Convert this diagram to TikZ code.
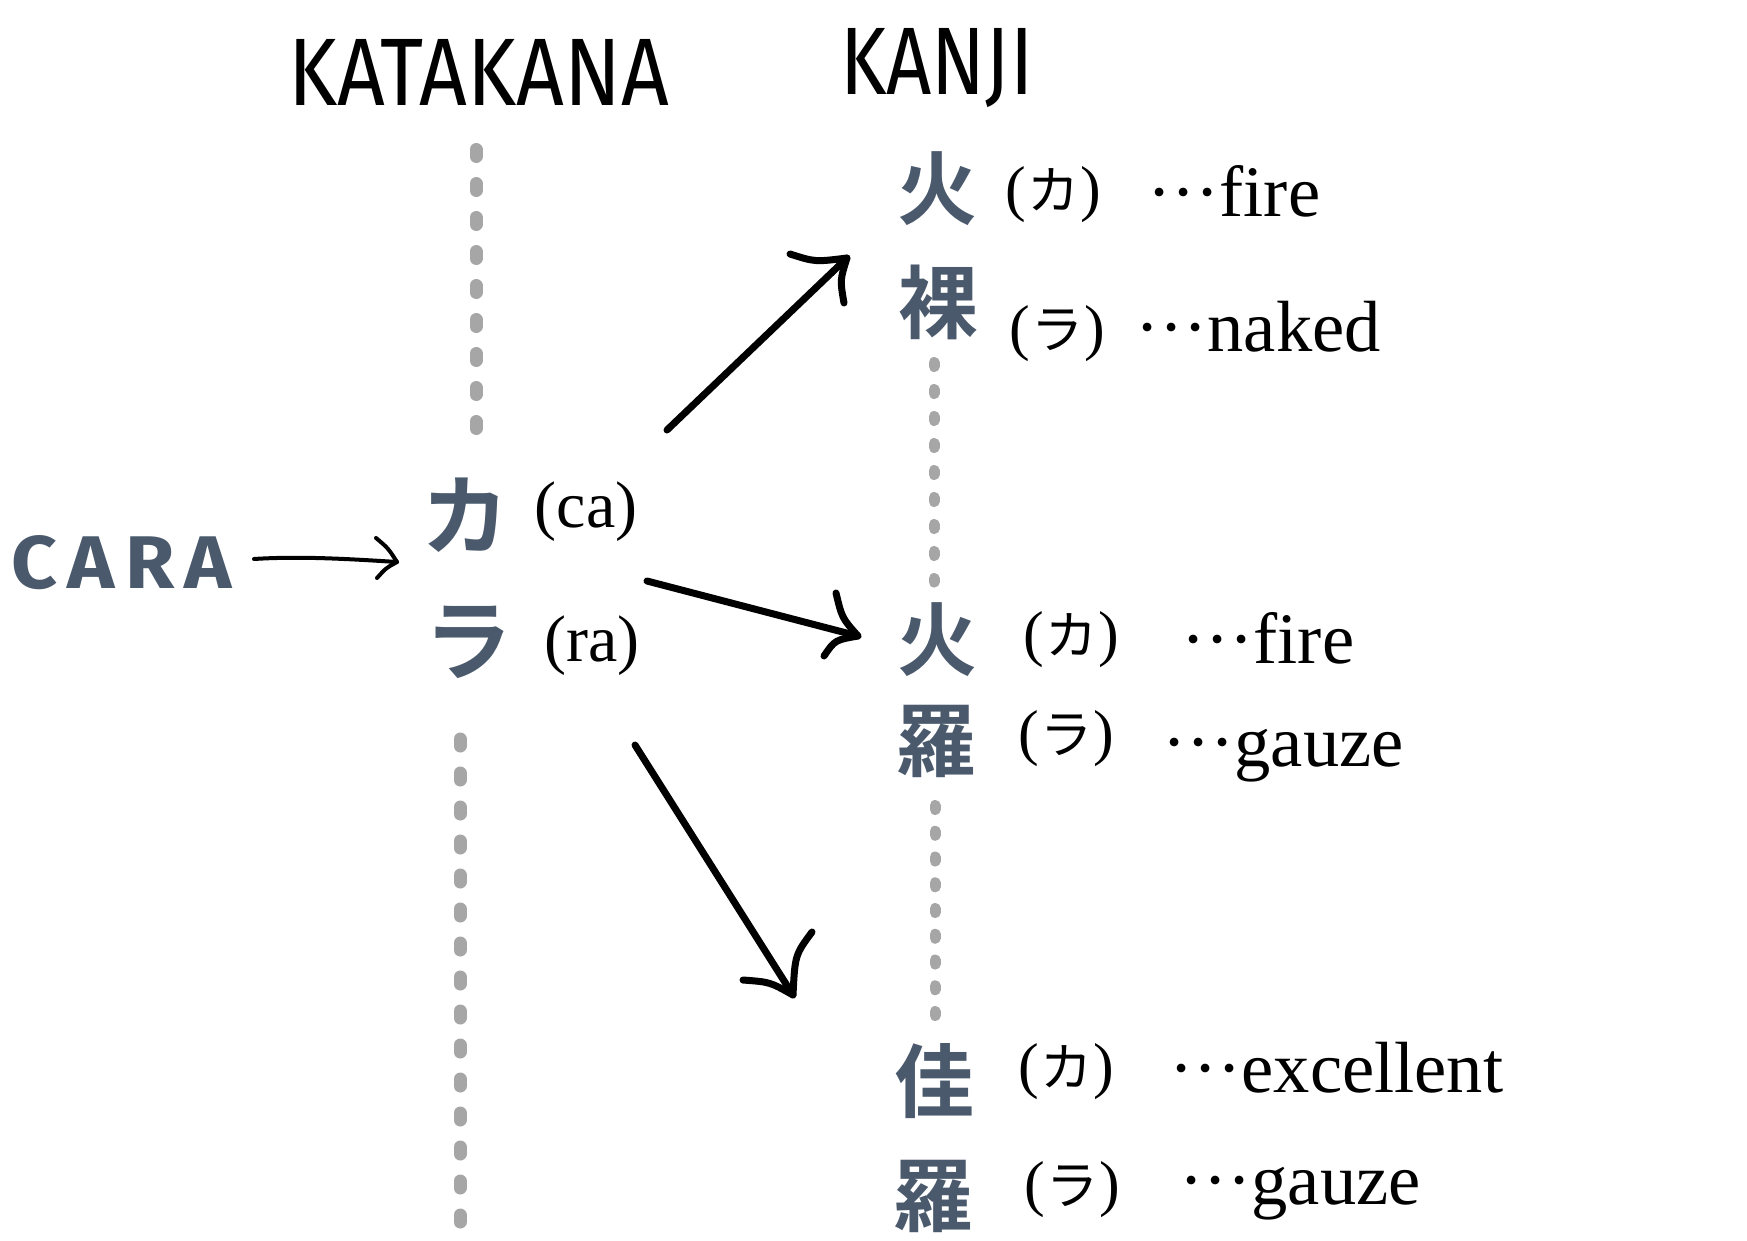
\documentclass[tikz,border=0pt]{standalone}
\usepackage{fontspec}
\setmainfont{Liberation Serif}
\newfontfamily\cjk{Noto Sans CJK JP}[BoldFont=* Bold]
\newfontfamily\titlefont{Fira Sans}
\definecolor{slate}{HTML}{4A596C}
\definecolor{dotgray}{HTML}{A6A6A6}
\newcommand\pk[1]{(\kern1pt{\cjk\fontsize{52}{52}\selectfont #1}\kern1pt)}
\tikzset{
  kanji/.style={inner sep=0pt, text=slate, font=\cjk\bfseries\fontsize{80}{80}\selectfont},
  kana/.style={inner sep=0pt, text=slate, font=\cjk\bfseries\fontsize{88}{88}\selectfont},
  reading/.style={inner sep=0pt, font=\fontsize{66}{66}\selectfont},
  kreading/.style={inner sep=0pt, font=\fontsize{62}{62}\selectfont},
  meaning/.style={inner sep=0pt, anchor=base west, font=\fontsize{72.5}{72.5}\selectfont},
  kdots/.style={dotgray, line width=13pt, line cap=round, dash pattern=on 7pt off 27pt},
  jdots/.style={dotgray, line width=11pt, line cap=round, dash pattern=on 4pt off 23pt},
  jdotsb/.style={dotgray, line width=11pt, line cap=round, dash pattern=on 4pt off 21.75pt},
  brush/.style={line width=7pt, line cap=round, line join=round},
  thinbrush/.style={line width=4pt, line cap=round, line join=round},
  title/.style={inner sep=0pt, anchor=north west, font=\titlefont},
}
\begin{document}
\begin{tikzpicture}[x=1pt,y=-1pt]
\useasboundingbox[fill=white] (0,0) rectangle (1747,1240);

% titles
\node[title] (tkata) at (288,39) {\resizebox{381pt}{66pt}{KATAKANA}};
\node[title] (tkanji) at (840,28) {\resizebox{193pt}{66pt}{KANJI}};

% CARA
\node[inner sep=0pt, anchor=north west, text=slate, font=\titlefont\bfseries] (cara) at (11,535)
  {\resizebox{221pt}{53pt}{\fontsize{77}{77}\selectfont C\kern10pt A\kern10pt R\kern10pt A}};

% katakana
\node[kana] (ka) at (465,515) {カ};
\node[kana] (ra) at (468,642) {ラ};
\node[reading] (rca) at (586,512) {(ca)};
\node[reading] (rra) at (592,646) {(ra)};

% kanji column
\node[kanji] (k1) at (937,189) {火};
\node[kanji] (k2) at (938,302) {裸};
\node[kanji] (k3) at (937,640) {火};
\node[kanji] (k4) at (936,741) {羅};
\node[kanji] (k5) at (934,1081) {佳};
\node[kanji] (k6) at (933,1196) {羅};

\node[kreading] (p1) at (1053,195) {\pk{カ}};
\node[kreading] (p2) at (1057,334) {\pk{ラ}};
\node[kreading] (p3) at (1071,640) {\pk{カ}};
\node[kreading] (p4) at (1066,739) {\pk{ラ}};
\node[kreading] (p5) at (1066,1072) {\pk{カ}};
\node[kreading] (p6) at (1072,1190) {\pk{ラ}};

\node[meaning] (m1) at (1147,216) {···fire};
\node[meaning] (m2) at (1135,351) {···naked};
\node[meaning] (m3) at (1181,663) {···fire};
\node[meaning] (m4) at (1162,766) {···gauze};
\node[meaning] (m5) at (1169,1092) {···excellent};
\node[meaning] (m6) at (1179,1204) {···gauze};

% dotted guide lines
\coordinate (d1a) at (476,149.5); \coordinate (d1b) at (476,430);
\coordinate (d2a) at (460,739);   \coordinate (d2b) at (460,1240);
\coordinate (d3a) at (934,362.5); \coordinate (d3b) at (934,582);
\coordinate (d4a) at (935,805.5); \coordinate (d4b) at (935,1017);
\draw[kdots] (d1a) -- (d1b);
\draw[kdots] (d2a) -- (d2b);
\draw[jdots] (d3a) -- (d3b);
\draw[jdotsb] (d4a) -- (d4b);

% arrows
\coordinate (a0s) at (254,559); \coordinate (a0t) at (397,562);
\coordinate (a0b1) at (376,538); \coordinate (a0b2) at (377,578);
\draw[thinbrush] (a0s) .. controls (300,556) and (350,559) .. (a0t);
\draw[thinbrush] (a0b1) .. controls (388,548) .. (a0t) .. controls (386,568) .. (a0b2);

\coordinate (a1s) at (667,430); \coordinate (a1t) at (847,258);
\coordinate (a1b1) at (790,254); \coordinate (a1b2) at (844,303);
\draw[brush] (a1s) -- (a1t);
\draw[brush] (a1b1) .. controls (815,262) .. (a1t) .. controls (840,280) .. (a1b2);

\coordinate (a2s) at (647,581); \coordinate (a2t) at (858,636);
\coordinate (a2b1) at (836,593); \coordinate (a2b2) at (824,656);
\draw[brush] (a2s) -- (a2t);
\draw[brush] (a2b1) .. controls (842,618) .. (a2t) .. controls (835,640) .. (a2b2);

\coordinate (a3s) at (635,745); \coordinate (a3t) at (793,995);
\coordinate (a3b1) at (812,932); \coordinate (a3b2) at (743,980);
\draw[brush] (a3s) -- (a3t);
\draw[brush] (a3b1) .. controls (795,955) .. (a3t) .. controls (770,982) .. (a3b2);
\end{tikzpicture}
\end{document}
